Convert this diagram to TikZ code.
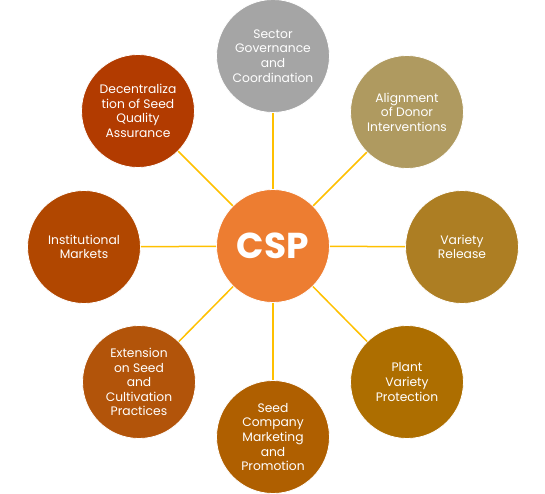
\documentclass[tikz,border=0pt]{standalone}
\usepackage{fontspec}
\setmainfont{Poppins}
\definecolor{cspor}{HTML}{ED7D31}
\definecolor{link}{HTML}{FFC000}
\definecolor{cgray}{HTML}{A5A5A5}
\definecolor{ctan}{HTML}{AF9A60}
\definecolor{cvr}{HTML}{AD7E23}
\definecolor{cpv}{HTML}{AD6E00}
\definecolor{csc}{HTML}{AF5F00}
\definecolor{cext}{HTML}{B2540A}
\definecolor{cinst}{HTML}{B14700}
\definecolor{cdec}{HTML}{B23B00}
\begin{document}
\begin{tikzpicture}[x=1pt,y=-1pt,
  outer/.style={circle,draw=white,line width=0.8pt,minimum size=113pt,inner sep=0pt,
    text=white,align=center,font=\fontsize{12.3}{14.6}\selectfont},
  hub/.style={circle,draw=white,line width=0.8pt,fill=cspor,minimum size=113pt,inner sep=0pt,
    text=white,font=\fontsize{36}{40}\selectfont\bfseries},
  spoke/.style={draw=link,line width=1.5pt}]
\useasboundingbox (0,0) rectangle (545,494);
\node[hub] (csp) at (273,246) {CSP};
\node[outer,fill=cgray] (sg) at (273,56) {Sector\\Governance\\and\\Coordination};
\node[outer,fill=ctan] (ad) at (407,112) {Alignment\\of Donor\\Interventions};
\node[outer,fill=cvr] (vr) at (462,247) {Variety\\Release};
\node[outer,fill=cpv] (pv) at (407,382) {Plant\\Variety\\Protection};
\node[outer,fill=csc] (sc) at (273,437) {Seed\\Company\\Marketing\\and\\Promotion};
\node[outer,fill=cext] (ex) at (139,382) {Extension\\on Seed\\and\\Cultivation\\Practices};
\node[outer,fill=cinst] (im) at (84,247) {Institutional\\Markets};
\node[outer,fill=cdec] (dq) at (138,111) {Decentraliza\\tion of Seed\\Quality\\Assurance};
\foreach \n in {sg,ad,vr,pv,sc,ex,im,dq}
  \draw[spoke] (csp) -- (\n);
\end{tikzpicture}
\end{document}
